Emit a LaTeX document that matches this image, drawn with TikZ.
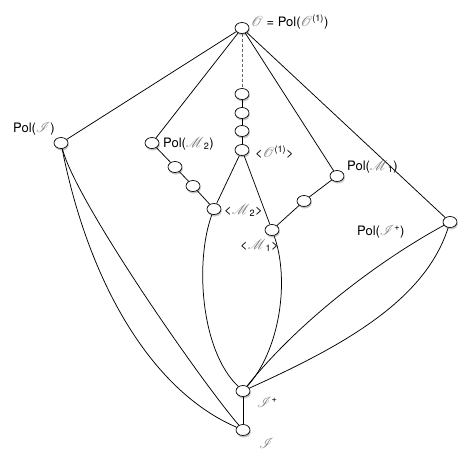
\documentclass[tikz,border=0pt]{standalone}
\usepackage{fontspec}
\setmainfont{TeX Gyre Heros}
\usepackage{mathrsfs}
\usetikzlibrary{shapes.geometric,shadows}
\newcommand{\scr}[1]{\textcolor{gray}{\fontsize{15}{17}\selectfont$\mathscr{#1}$}}

\begin{document}
\begin{tikzpicture}[x=1pt, y=-1pt,
  main/.style = {draw, ellipse, fill=white, minimum width=14pt, minimum height=11pt, inner sep=0pt, line width=0.7pt,
    drop shadow={shadow xshift=0.8pt, shadow yshift=-2pt, opacity=0.45}},
  lab/.style = {anchor=base west, inner sep=0pt, font=\fontsize{13}{15}\selectfont},
  edge/.style = {line width=0.75pt}]

\useasboundingbox (0,0) rectangle (474,464);

%% lattice points
\node[main] (o) at (242,28) {};
\node[main] (c1) at (242,94) {};
\node[main] (c2) at (242,113) {};
\node[main] (c3) at (242,131) {};
\node[main] (o1) at (242,150) {};
\node[main] (pi) at (61,143) {};
\node[main] (pm2) at (152,143) {};
\node[main] (a1) at (175,167) {};
\node[main] (a2) at (193,186) {};
\node[main] (m2) at (214,209) {};
\node[main] (pm1) at (337,176) {};
\node[main] (b1) at (304,201) {};
\node[main] (m1) at (272,230) {};
\node[main] (pip) at (450,222) {};
\node[main] (ip) at (243,391) {};
\node[main] (i) at (243,430) {};

%% labels
\node[lab] (lo) at (251,26) {\scr{O} = Pol(\scr{O}\textsuperscript{(1)})};
\node[lab] (lpi) at (13,132) {Pol(\scr{I})};
\node[lab] (lpm2) at (163,147) {Pol(\scr{M}\textsubscript{2})};
\node[lab] (lo1) at (255,157) {<\scr{O}\textsuperscript{(1)}>};
\node[lab] (lpm1) at (347,170) {Pol(\scr{M}\textsubscript{1})};
\node[lab] (lm2) at (224,214) {<\scr{M}\textsubscript{2}>};
\node[lab] (lm1) at (240,249) {<\scr{M}\textsubscript{1}>};
\node[lab] (lpip) at (357,235) {Pol(\scr{I}\textsuperscript{+})};
\node[lab] (lip) at (257,407) {\scr{I}\textsuperscript{+}};
\node[lab] (li) at (259,448) {\scr{I}};

%%% edges
\draw[edge] (o) -- (pi);
\draw[edge] (o) -- (pm2);
\draw[edge] (o) -- (pm1);
\draw[edge] (o) -- (pip);
\draw[edge, black!60, dash pattern=on 3pt off 2pt] (o) -- (c1);
\draw[edge] (c1) -- (c2) -- (c3) -- (o1);
\draw[edge] (pm2) -- (a1) -- (a2) -- (m2);
\draw[edge] (pm1) -- (b1) -- (m1);
\draw[edge] (o1) -- (m2);
\draw[edge] (o1) -- (m1);
\draw[edge] (ip) -- (i);

\draw[edge] (m2) .. controls (195,260) and (200,350) .. (ip);
\draw[edge] (m1) .. controls (290,280) and (280,350) .. (ip);
\draw[edge] (pi) .. controls (75,200) and (200,380) .. (i);
\draw[edge] (pi) .. controls (88,280) and (150,390) .. (i);
\draw[edge] (pip) .. controls (380,260) and (300,320) .. (ip);
\draw[edge] (pip) .. controls (425,300) and (345,345) .. (ip);

\end{tikzpicture}
\end{document}
